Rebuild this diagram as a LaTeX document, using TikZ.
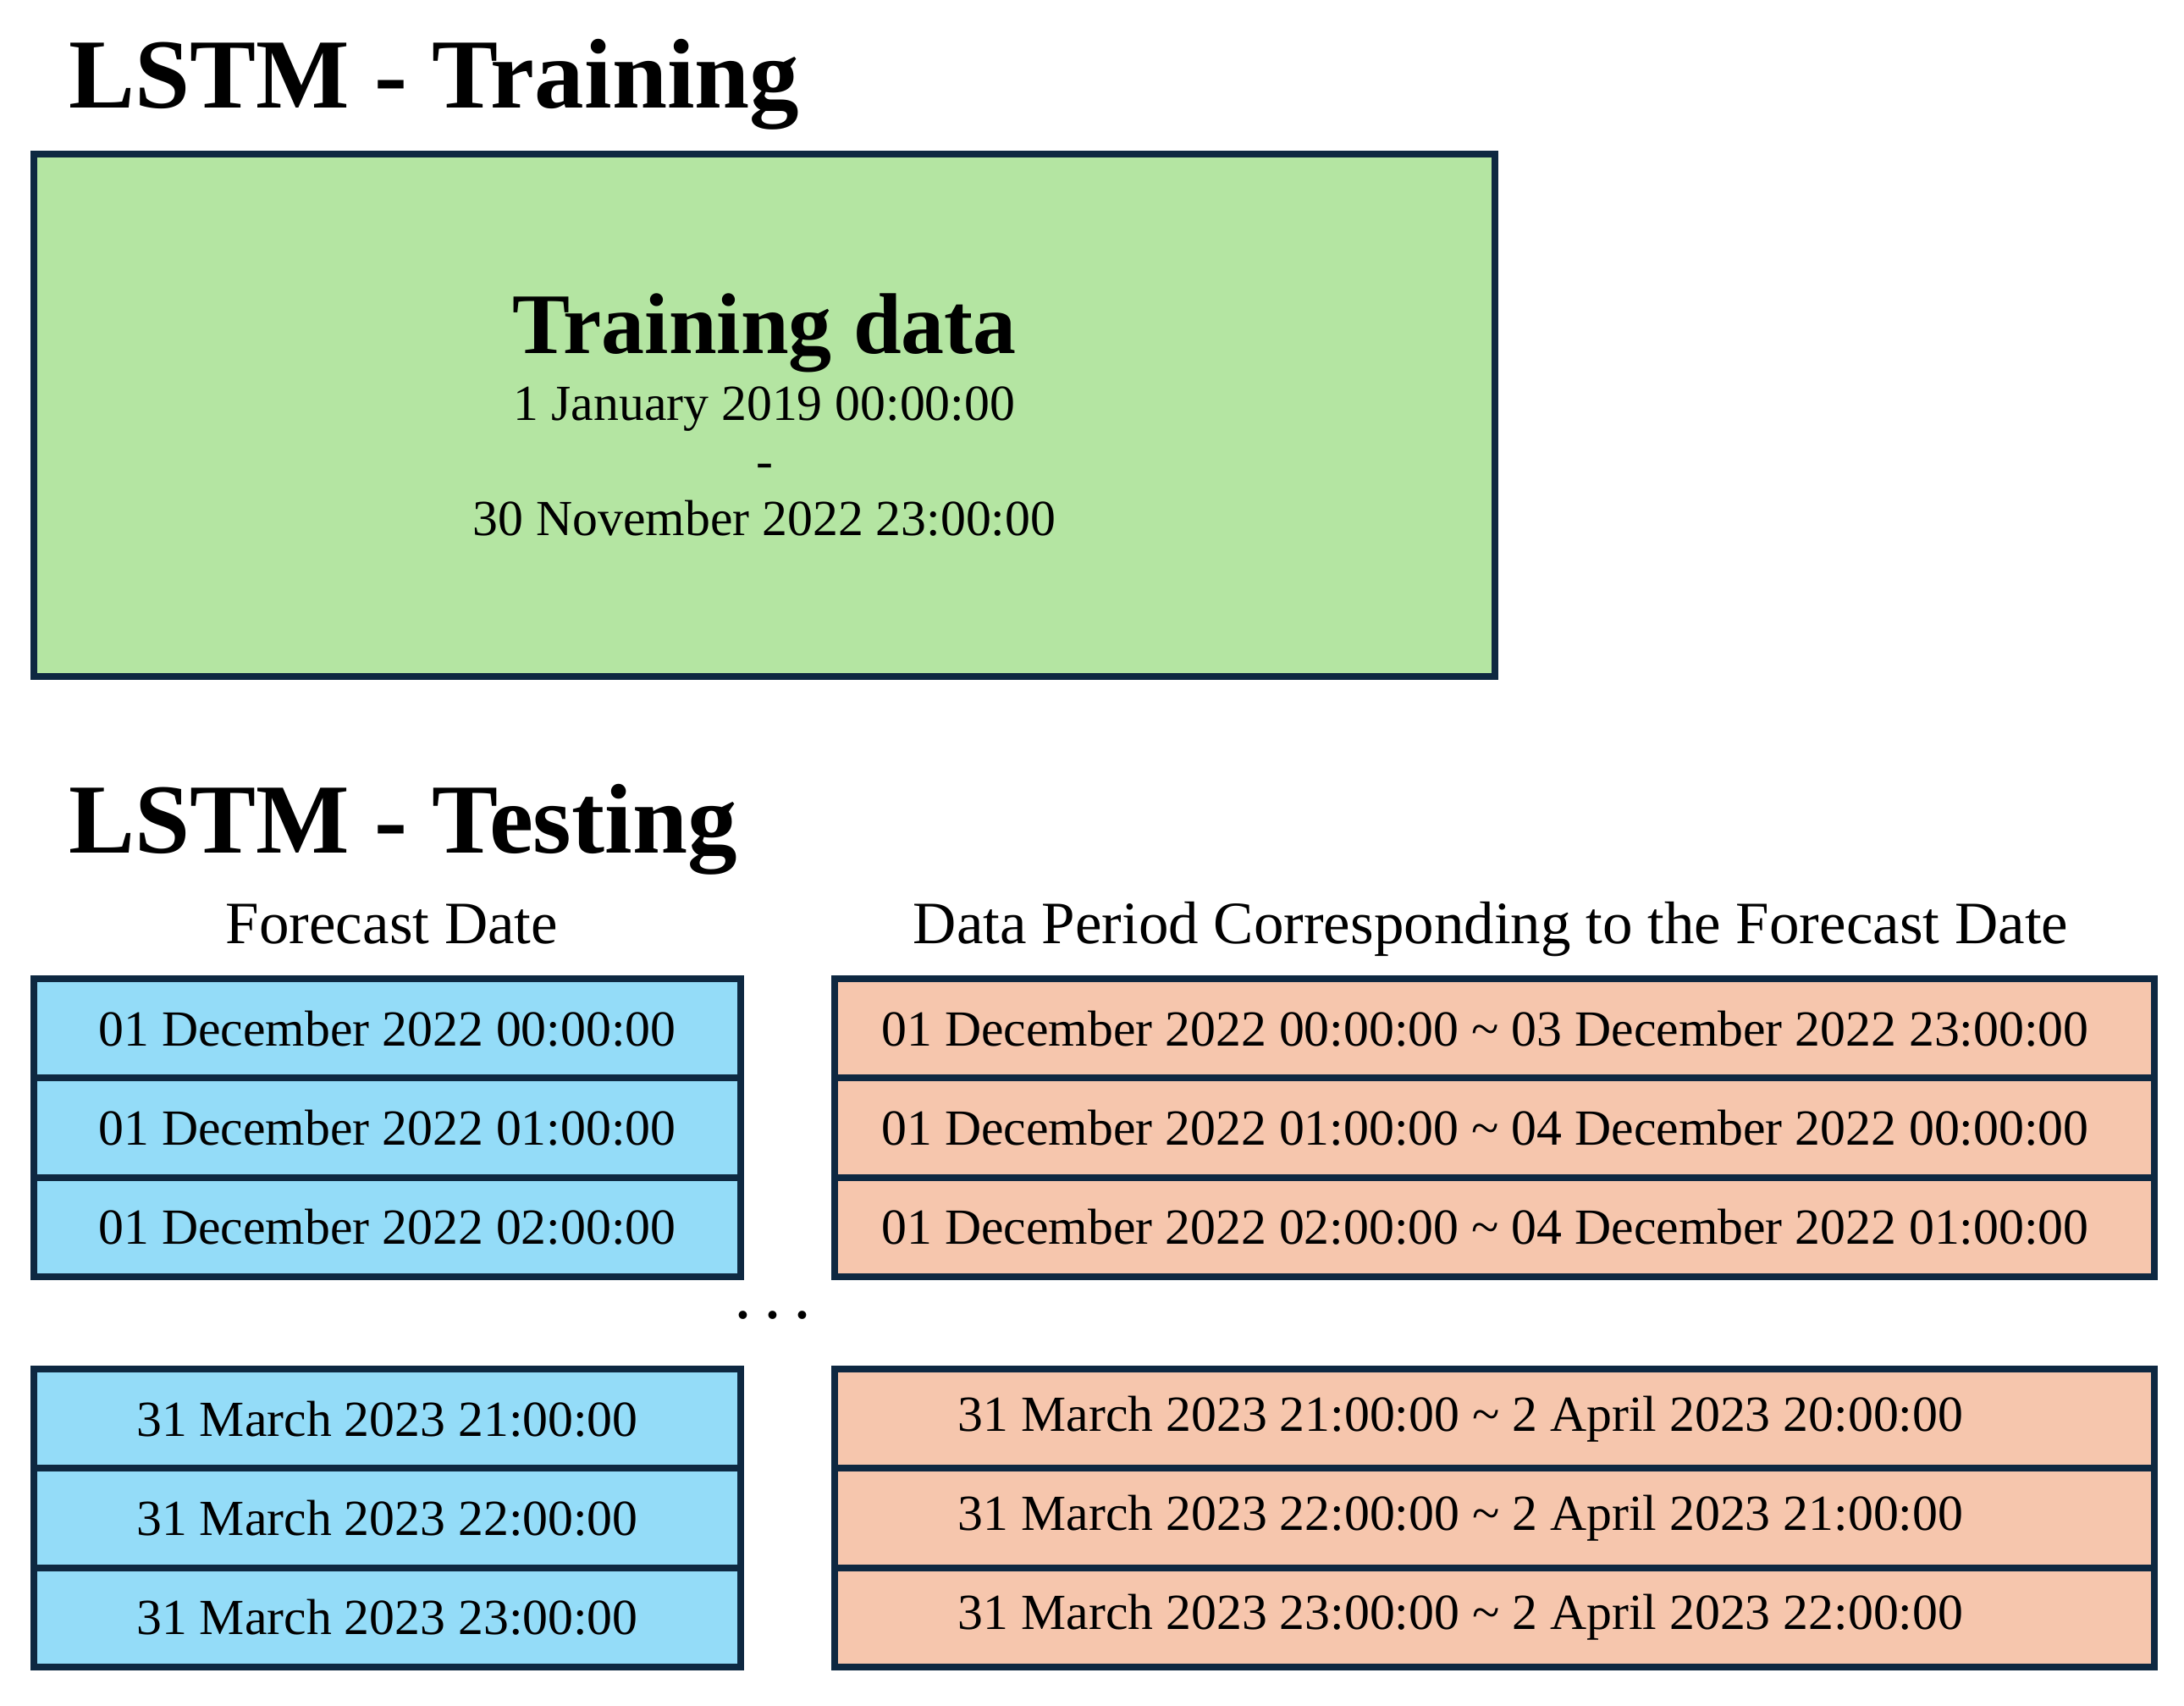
\documentclass[tikz,border=0pt]{standalone}
\usepackage{fontspec}
\setmainfont{Liberation Serif}
\usetikzlibrary{positioning}
\definecolor{edgeblue}{HTML}{0E2841}
\definecolor{trgreen}{HTML}{B4E5A2}
\definecolor{fcblue}{HTML}{94DCF8}
\definecolor{perorange}{HTML}{F6C6AD}

\begin{document}
\begin{tikzpicture}[
  ttl/.style={anchor=base west, font=\fontsize{33.3}{40}\selectfont\bfseries},
  hdr/.style={anchor=base, font=\fontsize{20.2}{24}\selectfont},
  cell/.style={rectangle, draw=edgeblue, line width=2.3pt, outer sep=0pt,
               minimum height=1.173cm, inner sep=0pt, font=\fontsize{17}{19.4}\selectfont},
  fc/.style={cell, fill=fcblue, minimum width=8.35cm},
  per/.style={cell, fill=perorange, minimum width=15.59cm},
  trn/.style={cell, fill=trgreen, minimum width=17.26cm, minimum height=6.17cm, align=center},
]
  \useasboundingbox (0,0) rectangle (25.8,-20.15);
  \node[ttl] (ttrain) at (0.69,-1.28) {LSTM - Training};
  \node[trn] (train) at (9.03,-4.905)
    {{\fontsize{29}{34}\selectfont\bfseries Training data}\\[3pt]
     1 January 2019 00:00:00\\ -\\ 30 November 2022 23:00:00};

  \node[ttl] (ttest) at (0.69,-10.07) {LSTM - Testing};
  \node[hdr] (hfc) at (4.63,-11.14) {Forecast Date};
  \node[hdr] (hper) at (17.61,-11.14) {Data Period Corresponding to the Forecast Date};

  \node[fc] (f1) at (4.575,-12.147) {01 December 2022 00:00:00};
  \node[fc, below=0pt of f1] (f2) {01 December 2022 01:00:00};
  \node[fc, below=0pt of f2] (f3) {01 December 2022 02:00:00};
  \node[fc] (f4) at (4.575,-16.757) {31 March 2023 21:00:00};
  \node[fc, below=0pt of f4] (f5) {31 March 2023 22:00:00};
  \node[fc, below=0pt of f5] (f6) {31 March 2023 23:00:00};

  \node[per] (p1) at (17.655,-12.147) {01 December 2022 00:00:00 \textasciitilde{} 03 December 2022 23:00:00\hspace*{0.22cm}};
  \node[per, below=0pt of p1] (p2) {01 December 2022 01:00:00 \textasciitilde{} 04 December 2022 00:00:00\hspace*{0.22cm}};
  \node[per, below=0pt of p2] (p3) {01 December 2022 02:00:00 \textasciitilde{} 04 December 2022 01:00:00\hspace*{0.22cm}};
  \node[per] (p4) at (17.655,-16.757) {31 March 2023 21:00:00 \textasciitilde{} 2 April 2023 20:00:00\hspace*{0.8cm}};
  \node[per, below=0pt of p4] (p5) {31 March 2023 22:00:00 \textasciitilde{} 2 April 2023 21:00:00\hspace*{0.8cm}};
  \node[per, below=0pt of p5] (p6) {31 March 2023 23:00:00 \textasciitilde{} 2 April 2023 22:00:00\hspace*{0.8cm}};

  \node[font=\fontsize{17}{20}\selectfont\bfseries] (gap) at (9.13,-15.53) {. . .};
\end{tikzpicture}
\end{document}
